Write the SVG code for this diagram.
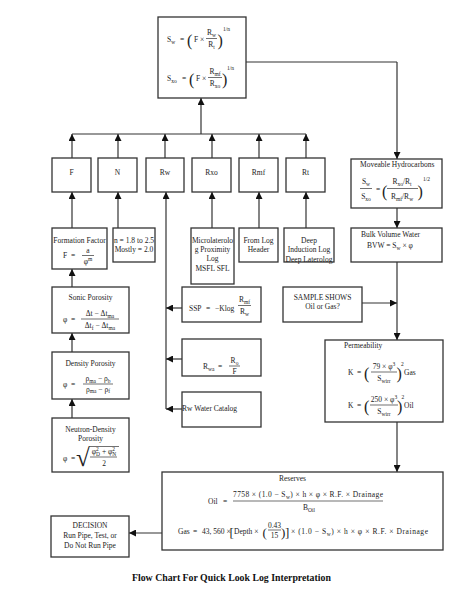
<svg xmlns="http://www.w3.org/2000/svg" width="474" height="597" viewBox="0 0 474 597">
<style>
.bx{fill:#fff;stroke:#333;stroke-width:1.3}
.ln{fill:none;stroke:#333;stroke-width:1.2}
.ar{fill:none;stroke:#333;stroke-width:1.2;marker-end:url(#ah)}
.bar{stroke:#333;stroke-width:0.7}
text{font-family:"Liberation Serif","Times New Roman",serif;font-size:7.5px;fill:#222}
.c{text-anchor:middle}
.s{font-size:5.5px}
.p{font-size:16px}
.m{font-size:13px}
.cap{font-size:9.8px;font-weight:bold;fill:#111}
</style>
<defs>
<marker id="ah" viewBox="0 0 10 10" refX="10" refY="5" markerWidth="7" markerHeight="7" orient="auto" markerUnits="userSpaceOnUse"><path d="M0,0L10,5L0,10z" fill="#111"/></marker>
</defs>
<rect width="474" height="597" fill="#fff"/>
<g id="connectors">
<path class="ln" d="M246,62H397"/>
<path class="ar" d="M397,62V159"/>
<path class="ln" d="M72,134H306"/>
<path class="ar" d="M201,134V98"/>
<path class="ar" d="M72,158V134"/>
<path class="ar" d="M118,158V134"/>
<path class="ar" d="M165,158V134"/>
<path class="ar" d="M212,158V134"/>
<path class="ar" d="M259,158V134"/>
<path class="ar" d="M306,158V134"/>
<path class="ar" d="M72,228V192"/>
<path class="ar" d="M118,228V192"/>
<path class="ar" d="M166,409V192"/>
<path class="ar" d="M212,228V192"/>
<path class="ar" d="M259,228V192"/>
<path class="ar" d="M306,228V192"/>
<path class="ar" d="M72,287V269"/>
<path class="ar" d="M72,352V333"/>
<path class="ar" d="M72,418V399"/>
<path class="ar" d="M182,308H166"/>
<path class="ar" d="M182,359H166"/>
<path class="ar" d="M182,409H166"/>
<path class="ar" d="M397,208V228"/>
<path class="ar" d="M397,262V340"/>
<path class="ar" d="M362,303H397"/>
<path class="ar" d="M397,422V472"/>
<path class="ar" d="M162,533H129"/>
</g>
<g id="n-saturation">
<rect class="bx" x="158" y="17" width="88" height="81"/>
<text x="167" y="42">S<tspan class="s" dy="1.5">w</tspan></text>
<text x="180" y="42">=</text>
<text class="p" x="187" y="46">(</text>
<text x="194" y="42">F ×</text>
<text class="c" x="211.5" y="35">R<tspan class="s" dy="1.5">w</tspan></text>
<line class="bar" x1="206" y1="38.5" x2="217" y2="38.5"/>
<text class="c" x="211.5" y="47">R<tspan class="s" dy="1.5">t</tspan></text>
<text class="p" x="217.5" y="46">)</text>
<text class="s" x="223" y="31">1/n</text>
<text x="167" y="81">S<tspan class="s" dy="1.5">xo</tspan></text>
<text x="182" y="81">=</text>
<text class="p" x="189" y="85">(</text>
<text x="196" y="81">F ×</text>
<text class="c" x="215" y="74">R<tspan class="s" dy="1.5">mf</tspan></text>
<line class="bar" x1="208" y1="77.5" x2="222" y2="77.5"/>
<text class="c" x="215" y="86">R<tspan class="s" dy="1.5">xo</tspan></text>
<text class="p" x="222" y="85">)</text>
<text class="s" x="227" y="70">1/n</text>
</g>
<g id="n-F"><rect class="bx" x="52" y="158" width="39" height="34"/><text class="c" x="71.5" y="175">F</text></g>
<g id="n-N"><rect class="bx" x="98" y="158" width="39" height="34"/><text class="c" x="117.5" y="175">N</text></g>
<g id="n-Rw"><rect class="bx" x="146" y="158" width="38" height="34"/><text class="c" x="165" y="175">Rw</text></g>
<g id="n-Rxo"><rect class="bx" x="192" y="158" width="39" height="34"/><text class="c" x="211.5" y="175">Rxo</text></g>
<g id="n-Rmf"><rect class="bx" x="239" y="158" width="39" height="34"/><text class="c" x="258.5" y="175">Rmf</text></g>
<g id="n-Rt"><rect class="bx" x="286" y="158" width="39" height="34"/><text class="c" x="305.5" y="175">Rt</text></g>
<g id="n-formation-factor">
<rect class="bx" x="52" y="228" width="55" height="41"/>
<text class="c" x="79.5" y="243">Formation Factor</text>
<text x="63" y="258">F</text>
<text x="71" y="258">=</text>
<text class="c" x="88" y="253">a</text>
<line class="bar" x1="82" y1="255.5" x2="94" y2="255.5"/>
<text class="c" x="88" y="264">φ<tspan class="s" dy="-3">m</tspan></text>
</g>
<g id="n-n-value">
<rect class="bx" x="113" y="228" width="42" height="34"/>
<text class="c" x="134" y="243">n = 1.8 to 2.5</text>
<text class="c" x="134" y="252">Mostly = 2.0</text>
</g>
<g id="n-sonic">
<rect class="bx" x="52" y="287" width="77" height="46"/>
<text class="c" x="90.5" y="300">Sonic Porosity</text>
<text x="63" y="322">φ</text>
<text x="71" y="322">=</text>
<text class="c" x="100" y="316">Δt − Δt<tspan class="s" dy="1.5">ma</tspan></text>
<line class="bar" x1="81" y1="319" x2="119" y2="319"/>
<text class="c" x="100" y="328">Δt<tspan class="s" dy="1.5">f</tspan><tspan dy="-1.5"> − Δt</tspan><tspan class="s" dy="1.5">ma</tspan></text>
</g>
<g id="n-density">
<rect class="bx" x="52" y="352" width="77" height="47"/>
<text class="c" x="90.5" y="366">Density Porosity</text>
<text x="63" y="387">φ</text>
<text x="71" y="387">=</text>
<text class="c" x="98" y="381">ρ<tspan class="s" dy="1.5">ma</tspan><tspan dy="-1.5"> − ρ</tspan><tspan class="s" dy="1.5">b</tspan></text>
<line class="bar" x1="83" y1="384" x2="113" y2="384"/>
<text class="c" x="98" y="391.5">ρ<tspan class="s" dy="1.5">ma</tspan><tspan dy="-1.5"> − ρ</tspan><tspan class="s" dy="1.5">f</tspan></text>
</g>
<g id="n-neutron-density">
<rect class="bx" x="52" y="418" width="77" height="54"/>
<text class="c" x="90.5" y="432">Neutron-Density</text>
<text class="c" x="90.5" y="441">Porosity</text>
<text x="63" y="461">φ</text>
<text x="71" y="461">=</text>
<text x="76" y="466" style="font-size:25px">√</text>
<line class="bar" x1="89" y1="446.5" x2="119" y2="446.5"/>
<text class="c" x="104" y="454">φ<tspan class="s" dy="-3">2</tspan><tspan class="s" dx="-2.8" dy="4.5">D</tspan><tspan dy="-1.5"> + φ</tspan><tspan class="s" dy="-3">2</tspan><tspan class="s" dx="-2.8" dy="4.5">N</tspan></text>
<line class="bar" x1="90" y1="457" x2="117" y2="457"/>
<text class="c" x="104" y="466">2</text>
</g>
<g id="n-microlaterolog">
<rect class="bx" x="191" y="228" width="43" height="56"/>
<text class="c" x="212.5" y="243">Microlaterolo</text>
<text class="c" x="212.5" y="252">g Proximity</text>
<text class="c" x="212.5" y="261">Log</text>
<text class="c" x="212.5" y="271">MSFL SFL</text>
</g>
<g id="n-log-header">
<rect class="bx" x="239" y="228" width="39" height="34"/>
<text class="c" x="258.5" y="243">From Log</text>
<text class="c" x="258.5" y="252">Header</text>
</g>
<g id="n-deep-induction">
<rect class="bx" x="284" y="228" width="50" height="34"/>
<text class="c" x="309" y="243">Deep</text>
<text class="c" x="309" y="252">Induction Log</text>
<text class="c" x="309" y="261.5">Deep Laterolog</text>
</g>
<g id="n-ssp">
<rect class="bx" x="182" y="287" width="79" height="35"/>
<text x="189" y="311">SSP</text>
<text x="206" y="311">=</text>
<text x="215" y="311">−Klog</text>
<text class="c" x="244.5" y="302">R<tspan class="s" dy="1.5">mf</tspan></text>
<line class="bar" x1="238" y1="305.5" x2="251" y2="305.5"/>
<text class="c" x="244.5" y="314">R<tspan class="s" dy="1.5">w</tspan></text>
</g>
<g id="n-rwa">
<rect class="bx" x="182" y="339" width="79" height="37"/>
<text x="203" y="369">R<tspan class="s" dy="1.5">wa</tspan></text>
<text x="218" y="369">=</text>
<text class="c" x="234.5" y="363">R<tspan class="s" dy="1.5">o</tspan></text>
<line class="bar" x1="229" y1="366" x2="240" y2="366"/>
<text class="c" x="234.5" y="374">F</text>
</g>
<g id="n-water-catalog">
<rect class="bx" x="182" y="392" width="79" height="35"/>
<text x="182" y="411">Rw Water Catalog</text>
</g>
<g id="n-moveable">
<rect class="bx" x="351" y="159" width="91" height="49"/>
<text x="360" y="167">Moveable Hydrocarbons</text>
<text class="c" x="366" y="184">S<tspan class="s" dy="1.5">w</tspan></text>
<line class="bar" x1="360" y1="188.5" x2="372" y2="188.5"/>
<text class="c" x="366" y="199">S<tspan class="s" dy="1.5">xo</tspan></text>
<text x="376" y="192">=</text>
<text class="p" x="382" y="197">(</text>
<text class="c" x="402" y="184">R<tspan class="s" dy="1.5">xo</tspan><tspan dy="-1.5">/R</tspan><tspan class="s" dy="1.5">t</tspan></text>
<line class="bar" x1="387" y1="188.5" x2="418" y2="188.5"/>
<text class="c" x="402" y="199">R<tspan class="s" dy="1.5">mf</tspan><tspan dy="-1.5">/R</tspan><tspan class="s" dy="1.5">w</tspan></text>
<text class="p" x="417.5" y="197">)</text>
<text class="s" x="423" y="181">1/2</text>
</g>
<g id="n-bvw">
<rect class="bx" x="351" y="228" width="91" height="34"/>
<text x="361" y="237">Bulk Volume Water</text>
<text x="367" y="248">BVW  =  S<tspan class="s" dy="1.5">w</tspan><tspan dy="-1.5"> × φ</tspan></text>
</g>
<g id="n-sample">
<rect class="bx" x="283" y="287" width="79" height="35"/>
<text class="c" x="322.5" y="300">SAMPLE SHOWS</text>
<text class="c" x="322.5" y="309">Oil or Gas?</text>
</g>
<g id="n-permeability">
<rect class="bx" x="325" y="340" width="118" height="82"/>
<text x="344" y="348">Permeability</text>
<text x="348" y="375">K</text>
<text x="357" y="375">=</text>
<text class="p" x="364" y="379">(</text>
<text class="c" x="384" y="369">79 × φ<tspan class="s" dy="-3">3</tspan></text>
<line class="bar" x1="371" y1="372" x2="397" y2="372"/>
<text class="c" x="384" y="381">S<tspan class="s" dy="1.5">wirr</tspan></text>
<text class="p" x="396.5" y="379">)</text>
<text class="s" x="401" y="366">2</text>
<text x="404" y="375">Gas</text>
<text x="348" y="408">K</text>
<text x="357" y="408">=</text>
<text class="p" x="364" y="412">(</text>
<text class="c" x="384" y="402">250 × φ<tspan class="s" dy="-3">3</tspan></text>
<line class="bar" x1="370" y1="405" x2="398" y2="405"/>
<text class="c" x="384" y="414">S<tspan class="s" dy="1.5">wirr</tspan></text>
<text class="p" x="397" y="412">)</text>
<text class="s" x="401.5" y="399">2</text>
<text x="404" y="408">Oil</text>
</g>
<g id="n-reserves">
<rect class="bx" x="162" y="472" width="281" height="78"/>
<text class="c" x="292.5" y="481">Reserves</text>
<text x="208" y="504">Oil</text>
<text x="223" y="504">=</text>
<text x="233" y="497" textLength="150" lengthAdjust="spacing">7758 × (1.0 − S<tspan class="s" dy="1.5">w</tspan><tspan dy="-1.5">) × h × φ × R.F. × Drainage</tspan></text>
<line class="bar" x1="233" y1="501" x2="383" y2="501"/>
<text class="c" x="309" y="510">B<tspan class="s" dy="1.5">Oil</tspan></text>
<text x="178" y="534">Gas</text>
<text x="193" y="534">=</text>
<text x="202" y="534">43, 560 ×</text>
<text class="m" x="229.5" y="537">[</text>
<text x="234" y="534">Depth ×</text>
<text class="m" x="262.5" y="537">(</text>
<text class="c" x="274.5" y="528">0.43</text>
<line class="bar" x1="268" y1="530" x2="281" y2="530"/>
<text class="c" x="274.5" y="538">15</text>
<text class="m" x="281" y="537">)</text>
<text class="m" x="285" y="537">]</text>
<text x="291" y="534" textLength="137" lengthAdjust="spacing">× (1.0 − S<tspan class="s" dy="1.5">w</tspan><tspan dy="-1.5">) × h × φ × R.F. × Drainage</tspan></text>
</g>
<g id="n-decision">
<rect class="bx" x="51" y="516" width="78" height="41"/>
<text class="c" x="90" y="528">DECISION</text>
<text class="c" x="90" y="538">Run Pipe, Test, or</text>
<text class="c" x="90" y="548">Do Not Run Pipe</text>
</g>
<text class="cap" x="132" y="581">Flow Chart For Quick Look Log Interpretation</text>
</svg>
